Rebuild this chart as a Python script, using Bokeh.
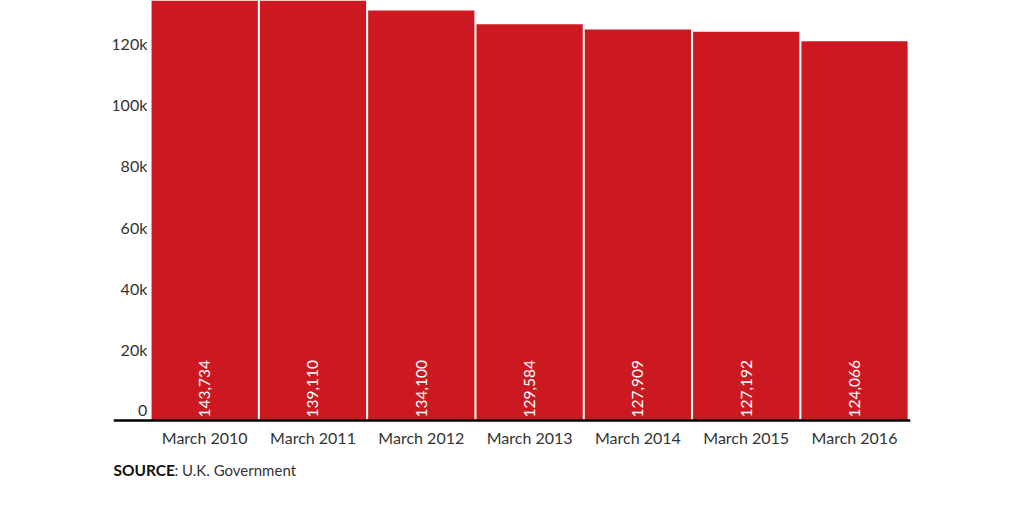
from bokeh.plotting import figure
from bokeh.models import ColumnDataSource
from bokeh.core.properties import value
from bokeh.embed import file_html
from bokeh.resources import INLINE
import math

categories = ["March 2010", "March 2011", "March 2012", "March 2013",
              "March 2014", "March 2015", "March 2016"]
values = [143734, 139110, 134100, 129584, 127909, 127192, 124066]
value_labels = ["143,734", "139,110", "134,100", "129,584", "127,909", "127,192", "124,066"]
ytick_values = [0, 20000, 40000, 60000, 80000, 100000, 120000]
ytick_labels = ["0", "20k", "40k", "60k", "80k", "100k", "120k"]
source_bold = "SOURCE"
source_rest = ": U.K. Government"

FONT = "Lato"
RED = "#cc1820"

xs = list(range(len(categories)))
src = ColumnDataSource(dict(x=xs, top=values, lab=value_labels, cat=categories))

W, H = 1008, 496
FL, FW = 113, 797
BASE = 420                      # pixel row of the baseline
x0, x1 = -0.842, 6.517
px_per_y = 0.003057
y1 = BASE / px_per_y
y0 = -(H - BASE) / px_per_y
px_per_x = FW / (x1 - x0)

p = figure(width=W, height=H, output_backend="svg", toolbar_location=None,
           x_range=(x0, x1), y_range=(y0, y1),
           min_border_left=FL, min_border_right=W - FL - FW, min_border_top=0,
           min_border_bottom=0)
p.outline_line_color = None
p.grid.visible = False
p.axis.visible = False
p.background_fill_color = "white"
p.border_fill_color = "white"

p.vbar(x="x", top="top", bottom=0, width=0.981, source=src, fill_color=RED, line_color=None)

p.text(x="x", y=0, text="lab", source=src, angle=math.pi / 2,
       text_align="left", text_baseline="middle", y_offset=-3,
       text_color="white", text_font=value(FONT), text_font_size="15.5px")

# baseline
p.segment(x0=x0, y0=0, x1=x1, y1=0, line_color="black", line_width=2.5)

# category labels
p.text(x="x", y=0, text="cat", source=src, text_align="center",
       text_baseline="middle", y_offset=17, text_color="#333333",
       text_font=value(FONT), text_font_size="16px")

# y tick labels
ysrc = ColumnDataSource(dict(y=ytick_values, t=ytick_labels))
p.text(x=-0.53, y="y", text="t", source=ysrc, text_align="right",
       text_baseline="middle", y_offset=-10, text_color="#333333",
       text_font=value(FONT), text_font_size="16px")

# source line
p.text(x=[x0], y=[0], text=[source_bold], text_align="left", text_baseline="middle",
       y_offset=49, text_color="#111111", text_font=value(FONT),
       text_font_style="bold", text_font_size="15.5px")
p.text(x=[x0 + 61 / px_per_x], y=[0], text=[source_rest], text_align="left",
       text_baseline="middle", y_offset=49, text_color="#333333",
       text_font=value(FONT), text_font_size="15px")

open("out.html", "w").write(file_html(p, INLINE))
